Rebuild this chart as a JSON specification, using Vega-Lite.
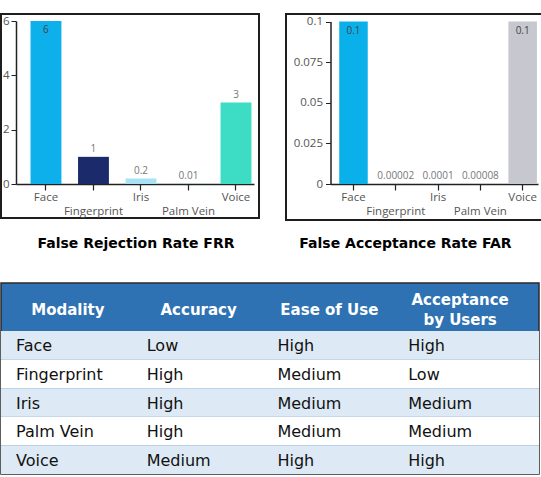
{
  "$schema": "https://vega.github.io/schema/vega-lite/v6.json",
  "padding": {"left": 0, "top": 13, "right": 0, "bottom": 0},
  "background": "white",
  "config": {"font": "Open Sans", "view": {"stroke": null}},
  "spacing": 30,
  "vconcat": [
    {
      "spacing": 25,
      "resolve": {"scale": {"color": "independent", "x": "independent", "y": "independent"}},
      "hconcat": [
        {
          "width": 258,
          "height": 204,
          "view": {"stroke": "#1e1e1e", "strokeWidth": 2},
          "title": {"text": "False Rejection Rate FRR", "orient": "bottom", "anchor": "middle", "font": "DejaVu Sans", "fontSize": 14, "fontWeight": "bold", "color": "#000000", "offset": 19, "dx": 6},
          "data": {"values": [
            {"modality": "Face", "frr": 6},
            {"modality": "Fingerprint", "frr": 1},
            {"modality": "Iris", "frr": 0.2},
            {"modality": "Palm Vein", "frr": 0.01},
            {"modality": "Voice", "frr": 3}
          ]},
          "encoding": {
            "x": {
              "field": "modality", "type": "nominal", "sort": null,
              "scale": {"range": [15, 253], "paddingInner": 0.35, "paddingOuter": 0.18, "align": 0.85},
              "axis": {"orient": "bottom", "offset": -34, "title": null, "labelAngle": 0, "tickSize": 6, "labelPadding": 1,
                "domainColor": "#222222", "domainWidth": 1.5, "tickColor": "#222222", "tickWidth": 1.2,
                "labelColor": "#555555", "labelFontSize": 11.5, "labelBaseline": "top", "labelLineHeight": 14, "labelOverlap": false,
                "labelExpr": "datum.value == 'Fingerprint' || datum.value == 'Palm Vein' ? ['', datum.value] : datum.value"}
            },
            "y": {
              "field": "frr", "type": "quantitative",
              "scale": {"domain": [0, 6], "range": [170, 7], "nice": false},
              "axis": {"offset": -15, "values": [0, 2, 4, 6], "grid": false, "title": null, "domainColor": "#222222", "domainWidth": 1.5,
                "tickColor": "#222222", "tickSize": 5, "labelPadding": 2, "labelColor": "#555555", "labelFontSize": 11.5}
            }
          },
          "layer": [
            {
              "mark": {"type": "bar"},
              "encoding": {
                "color": {"field": "modality", "type": "nominal", "legend": null,
                  "scale": {"domain": ["Face", "Fingerprint", "Iris", "Palm Vein", "Voice"], "range": ["#0db0ea", "#1b2a6b", "#a9e2f6", "#8fd3e8", "#3ddcc4"]}}
              }
            },
            {
              "transform": [{"filter": "datum.frr < 5"}],
              "mark": {"type": "text", "baseline": "bottom", "dy": -3, "fontSize": 10, "color": "#777777"},
              "encoding": {"text": {"field": "frr", "type": "quantitative", "format": "~g"}}
            },
            {
              "transform": [{"filter": "datum.frr >= 5"}],
              "mark": {"type": "text", "baseline": "top", "dy": 4, "fontSize": 10, "color": "#444444"},
              "encoding": {"text": {"field": "frr", "type": "quantitative", "format": "~g"}}
            }
          ]
        },
        {
          "width": 257,
          "height": 206,
          "view": {"stroke": "#1e1e1e", "strokeWidth": 2},
          "title": {"text": "False Acceptance Rate FAR", "orient": "bottom", "anchor": "middle", "font": "DejaVu Sans", "fontSize": 14, "fontWeight": "bold", "color": "#000000", "offset": 17, "dx": -9},
          "data": {"values": [
            {"modality": "Face", "far": 0.1},
            {"modality": "Fingerprint", "far": 0.00002},
            {"modality": "Iris", "far": 0.0001},
            {"modality": "Palm Vein", "far": 0.00008},
            {"modality": "Voice", "far": 0.1}
          ]},
          "encoding": {
            "x": {
              "field": "modality", "type": "nominal", "sort": null,
              "scale": {"range": [44.5, 252], "paddingInner": 0.326, "paddingOuter": 0.116, "align": 0.89},
              "axis": {"orient": "bottom", "offset": -36, "title": null, "labelAngle": 0, "tickSize": 6, "labelPadding": 1,
                "domainColor": "#222222", "domainWidth": 1.5, "tickColor": "#222222", "tickWidth": 1.2,
                "labelColor": "#555555", "labelFontSize": 11.5, "labelBaseline": "top", "labelLineHeight": 14, "labelOverlap": false,
                "labelExpr": "datum.value == 'Fingerprint' || datum.value == 'Palm Vein' ? ['', datum.value] : datum.value"}
            },
            "y": {
              "field": "far", "type": "quantitative",
              "scale": {"domain": [0, 0.1], "range": [170, 7.5], "nice": false},
              "axis": {"offset": -44.5, "values": [0, 0.025, 0.05, 0.075, 0.1], "format": ".3~g", "grid": false, "title": null, "domainColor": "#222222", "domainWidth": 1.5,
                "tickColor": "#222222", "tickSize": 5, "labelPadding": 3, "labelColor": "#555555", "labelFontSize": 11.5}
            }
          },
          "layer": [
            {
              "mark": {"type": "bar"},
              "encoding": {
                "color": {"field": "modality", "type": "nominal", "legend": null,
                  "scale": {"domain": ["Face", "Fingerprint", "Iris", "Palm Vein", "Voice"], "range": ["#0ab0ea", "#1b2a6b", "#a9e2f6", "#8fd3e8", "#c6c7cf"]}}
              }
            },
            {
              "transform": [{"filter": "datum.far < 0.05"}],
              "mark": {"type": "text", "baseline": "bottom", "dy": -3, "fontSize": 10, "color": "#777777"},
              "encoding": {"text": {"field": "far", "type": "quantitative", "format": "~g"}}
            },
            {
              "transform": [{"filter": "datum.far >= 0.05"}],
              "mark": {"type": "text", "baseline": "top", "dy": 4, "fontSize": 10, "color": "#444444"},
              "encoding": {"text": {"field": "far", "type": "quantitative", "format": "~g"}}
            }
          ]
        }
      ]
    },
    {
      "width": 538,
      "height": 191,
      "view": {"fill": "#2e72b3", "stroke": "#2a2a2a", "strokeWidth": 1.5},
      "data": {"values": [
        {"Modality": "Face", "Accuracy": "Low", "Ease of Use": "High", "Acceptance by Users": "High"},
        {"Modality": "Fingerprint", "Accuracy": "High", "Ease of Use": "Medium", "Acceptance by Users": "Low"},
        {"Modality": "Iris", "Accuracy": "High", "Ease of Use": "Medium", "Acceptance by Users": "Medium"},
        {"Modality": "Palm Vein", "Accuracy": "High", "Ease of Use": "Medium", "Acceptance by Users": "Medium"},
        {"Modality": "Voice", "Accuracy": "Medium", "Ease of Use": "High", "Acceptance by Users": "High"}
      ]},
      "encoding": {
        "y": {"field": "Modality", "type": "nominal",
          "scale": {"domain": ["Face", "Fingerprint", "Iris", "Palm Vein", "Voice"], "range": [48, 191], "paddingInner": 0, "paddingOuter": 0},
          "axis": null}
      },
      "layer": [
        {
          "mark": {"type": "rect"},
          "encoding": {
            "fill": {"field": "Modality", "type": "nominal", "legend": null,
              "scale": {"domain": ["Face", "Fingerprint", "Iris", "Palm Vein", "Voice"], "range": ["#dde9f5", "#ffffff", "#dde9f5", "#ffffff", "#dde9f5"]}}
          }
        },
        {
          "transform": [{"fold": ["Modality", "Accuracy", "Ease of Use", "Acceptance by Users"]}],
          "mark": {"type": "text", "align": "left", "baseline": "middle", "dx": -51.4, "dy": 1, "font": "DejaVu Sans", "fontSize": 16, "color": "#111111"},
          "encoding": {
            "x": {"field": "key", "type": "nominal", "sort": ["Modality", "Accuracy", "Ease of Use", "Acceptance by Users"],
              "scale": {"range": [1, 524], "paddingInner": 0, "paddingOuter": 0},
              "axis": {"orient": "top", "offset": -26.5, "title": null, "domain": false, "ticks": false, "tickSize": 0,
                "labelPadding": {"condition": {"test": "datum.value == 'Acceptance by Users'", "value": 9.8}, "value": 0},
                "labelAngle": 0, "labelAlign": "center", "labelBaseline": "middle", "labelFont": "DejaVu Sans", "labelFontWeight": "bold",
                "labelFontSize": 15, "labelColor": "#ffffff", "labelLineHeight": 19.6, "labelOverlap": false, "labelLimit": 0,
                "labelExpr": "datum.value == 'Acceptance by Users' ? ['Acceptance', 'by Users'] : datum.value"}},
            "text": {"field": "value", "type": "nominal"}
          }
        }
      ]
    }
  ]
}
